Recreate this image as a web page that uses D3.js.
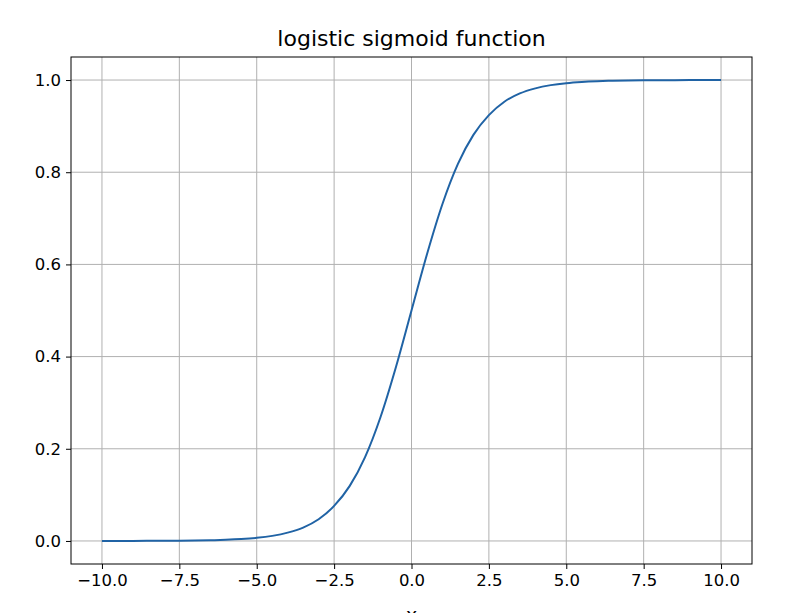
<!DOCTYPE html>
<html><head><meta charset="utf-8">
<script src="https://cdn.jsdelivr.net/npm/d3@7"></script>
<style>body{margin:0;background:#fff}text{font-family:"DejaVu Sans",sans-serif}</style>
</head><body>
<svg id="chart" width="800" height="613"></svg>
<script>
// points
var xs = [-10,-9.5,-9,-8.5,-8,-7.5,-7,-6.5,-6,-5.5,-5,-4.5,-4,-3.5,-3,-2.5,-2,-1.5,-1,-0.5,0,
          0.5,1,1.5,2,2.5,3,3.5,4,4.5,5,5.5,6,6.5,7,7.5,8,8.5,9,9.5,10];
var ys = [0.00005,0.00007,0.00012,0.0002,0.00034,0.00055,0.0009,0.0015,0.0025,0.0041,0.0067,0.011,0.018,0.029,0.047,0.076,0.119,0.182,0.269,0.378,0.5,
          0.622,0.731,0.818,0.881,0.924,0.953,0.971,0.982,0.989,0.9933,0.9959,0.9975,0.9985,0.9991,0.99945,0.99966,0.9998,0.99988,0.99993,0.99995];
var xTicks = [-10,-7.5,-5,-2.5,0,2.5,5,7.5,10];
var yTicks = [0,0.2,0.4,0.6,0.8,1.0];

var L = 71, R = 752, T = 57, B = 564;
var svg = d3.select("#chart");
var x = d3.scaleLinear().domain([-11, 11]).range([L, R]);
var y = d3.scaleLinear().domain([-0.05, 1.05]).range([B, T]);

// grid
svg.append("g").selectAll("line").data(xTicks).join("line")
  .attr("x1", d => x(d)).attr("x2", d => x(d)).attr("y1", T).attr("y2", B)
  .attr("stroke", "#b0b0b0").attr("stroke-width", 1);
svg.append("g").selectAll("line").data(yTicks).join("line")
  .attr("y1", d => y(d)).attr("y2", d => y(d)).attr("x1", L).attr("x2", R)
  .attr("stroke", "#b0b0b0").attr("stroke-width", 1);

var fmt = d => d3.format(".1f")(d).replace("-", "\u2212");
var xa = svg.append("g").attr("transform", `translate(0,${B})`)
  .call(d3.axisBottom(x).tickValues(xTicks).tickFormat(fmt).tickSize(5).tickPadding(5));
var ya = svg.append("g").attr("transform", `translate(${L},0)`)
  .call(d3.axisLeft(y).tickValues(yTicks).tickFormat(fmt).tickSize(5).tickPadding(5));
[xa, ya].forEach(a => {
  a.select(".domain").remove();
  a.selectAll("text").attr("font-size", 16.5).attr("fill", "#000").style("font-family", "DejaVu Sans");
  a.selectAll("line").attr("stroke", "#000");
});

svg.append("path").datum(xs.map((d, i) => [d, ys[i]]))
  .attr("d", d3.line().x(d => x(d[0])).y(d => y(d[1])).curve(d3.curveMonotoneX))
  .attr("fill", "none").attr("stroke", "#2063a5").attr("stroke-width", 2);

svg.append("rect").attr("x", L).attr("y", T).attr("width", R - L).attr("height", B - T)
  .attr("fill", "none").attr("stroke", "#000").attr("stroke-width", 1);

svg.append("text").attr("x", (L + R) / 2).attr("y", 46).attr("text-anchor", "middle")
  .attr("font-size", 22).text("logistic sigmoid function");
svg.append("text").attr("x", (L + R) / 2).attr("y", 622).attr("text-anchor", "middle")
  .attr("font-size", 19).text("x");
</script>
</body></html>
